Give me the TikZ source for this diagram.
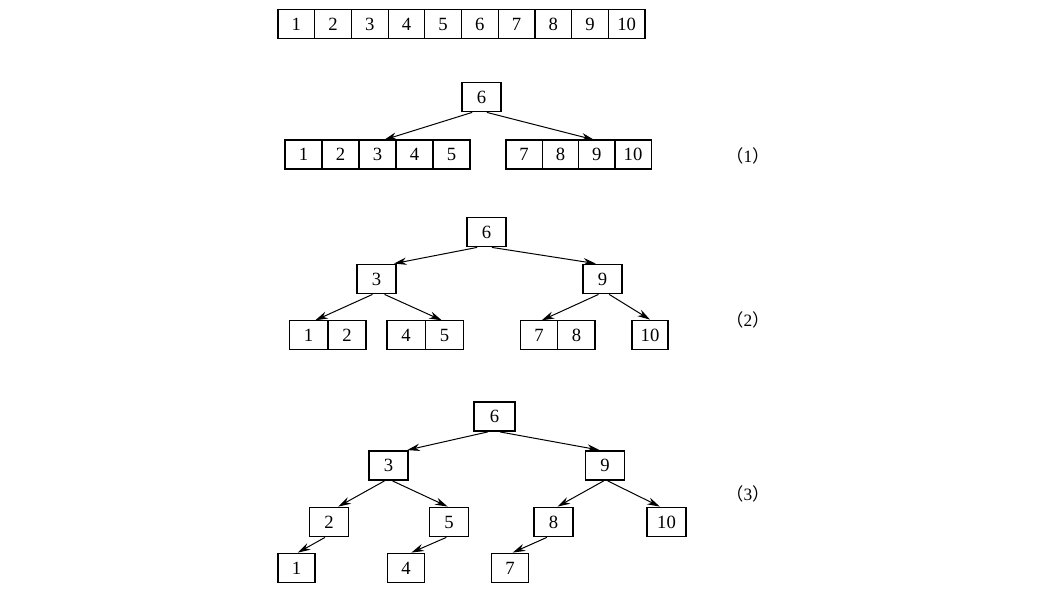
\documentclass[tikz,border=0pt]{standalone}
\usepackage{fontspec}
\setmainfont{Liberation Serif}
\newfontfamily\cjk{Noto Sans CJK SC}
\usetikzlibrary{arrows.meta}

\begin{document}
\begin{tikzpicture}[x=0.75pt, y=-0.75pt,
	font=\fontsize{14}{16}\selectfont,
	cell/.style={draw, line width=0.6pt, minimum width=27.5pt, minimum height=22pt, inner sep=0pt, outer sep=0pt},
	key/.style={draw, line width=1.1pt, minimum width=29pt, minimum height=22pt, inner sep=0pt},
	frame/.style={draw, line width=1.1pt},
	arr/.style={-{Stealth[length=9.5pt,width=5.5pt]}, line width=0.75pt},
	stage/.style={font=\fontsize{13}{15}\selectfont}]
	\useasboundingbox (0,0) rectangle (1041,599);
	
	% Sorted array
	\foreach \i in {1,...,10}
		\node[cell] (a\i) at ({278+36.7*(\i-0.5)}, 24) {\i};
	\draw[frame] (a1.north west) rectangle (a10.south east);
	
	% Step (1)
	\node[key] (p6) at (481.5, 97) {6};
	\foreach \i in {1,...,5}
		\node[cell] (p\i) at ({285+37*(\i-0.5)}, 154.5) {\i};
	\foreach \i [count=\j] in {7,...,10}
		\node[cell] (p\i) at ({506+36.3*(\j-0.5)}, 154.5) {\i};
	\draw[frame] (p1.north west) rectangle (p5.south east);
	\draw[frame] (p7.north west) rectangle (p10.south east);
	\draw[arr] ([xshift=-7pt]p6.south) -- ([xshift=5pt]p3.north);
	\draw[arr] ([xshift=4pt]p6.south) -- ([xshift=-2pt]p9.north);
	\node[stage] (s1) at (748, 156) {{\cjk （}1{\cjk ）}};
	
	% Step (2)
	\node[key] (q6) at (486.5, 232) {6};
	\node[key] (q3) at (376.5, 279) {3};
	\node[key] (q9) at (602.5, 279) {9};
	\node[cell, minimum width=28.5pt] (q1) at (308.5, 335) {1};
	\node[cell, minimum width=28.5pt] (q2) at (347, 335) {2};
	\node[cell, minimum width=28.5pt] (q4) at (406, 335) {4};
	\node[cell, minimum width=28.5pt] (q5) at (444.5, 335) {5};
	\node[cell, minimum width=28pt] (q7) at (539, 335) {7};
	\node[cell, minimum width=28pt] (q8) at (576.5, 335) {8};
	\node[key, minimum width=27pt] (q10) at (650, 335) {10};
	\draw[frame] (q1.north west) rectangle (q2.south east);
	\draw[frame] (q4.north west) rectangle (q5.south east);
	\draw[frame] (q7.north west) rectangle (q8.south east);
	\draw[arr] ([xshift=-7pt]q6.south) -- ([xshift=-2pt]q3.north east);
	\draw[arr] ([xshift=4pt]q6.south) -- ([xshift=-5pt]q9.north);
	\draw[arr] ([xshift=-3pt]q3.south) -- ([xshift=5pt]q1.north);
	\draw[arr] ([xshift=6pt]q3.south) -- ([xshift=-2pt]q5.north);
	\draw[arr] ([xshift=-3pt]q9.south) -- ([xshift=2pt]q7.north);
	\draw[arr] ([xshift=5pt]q9.south) -- (q10.north);
	\node[stage] (s2) at (748, 320) {{\cjk （}2{\cjk ）}};
	
	% Step (3)
	\node[key, minimum width=30.5pt] (t6) at (494.5, 416.5) {6};
	\node[key] (t3) at (388.5, 465.5) {3};
	\node[key] (t9) at (605, 465.5) {9};
	\node[key] (t2) at (329, 522) {2};
	\node[key] (t5) at (449, 522) {5};
	\node[key] (t8) at (553.5, 522) {8};
	\node[key] (t10) at (666.5, 522) {10};
	\node[key, minimum width=28pt] (t1) at (296.5, 568) {1};
	\node[key, minimum width=28pt] (t4) at (406, 568) {4};
	\node[key, minimum width=28pt] (t7) at (510, 568) {7};
	\draw[arr] ([xshift=-5pt]t6.south) -- ([xshift=-1pt]t3.north east);
	\draw[arr] ([xshift=4pt]t6.south) -- ([xshift=-4pt]t9.north);
	\draw[arr] ([xshift=-3pt]t3.south) -- ([xshift=7pt]t2.north);
	\draw[arr] ([xshift=3pt]t3.south) -- ([xshift=-1pt]t5.north);
	\draw[arr] ([xshift=-1pt]t9.south) -- ([xshift=3pt]t8.north);
	\draw[arr] ([xshift=2pt]t9.south) -- ([xshift=-5pt]t10.north);
	\draw[arr] ([xshift=-3pt]t2.south) -- ([xshift=1pt]t1.north);
	\draw[arr] ([xshift=-2pt]t5.south) -- ([xshift=4pt]t4.north);
	\draw[arr] ([xshift=-5pt]t8.south) -- ([xshift=2pt]t7.north);
	\node[stage] (s3) at (748, 494) {{\cjk （}3{\cjk ）}};
\end{tikzpicture}
\end{document}
